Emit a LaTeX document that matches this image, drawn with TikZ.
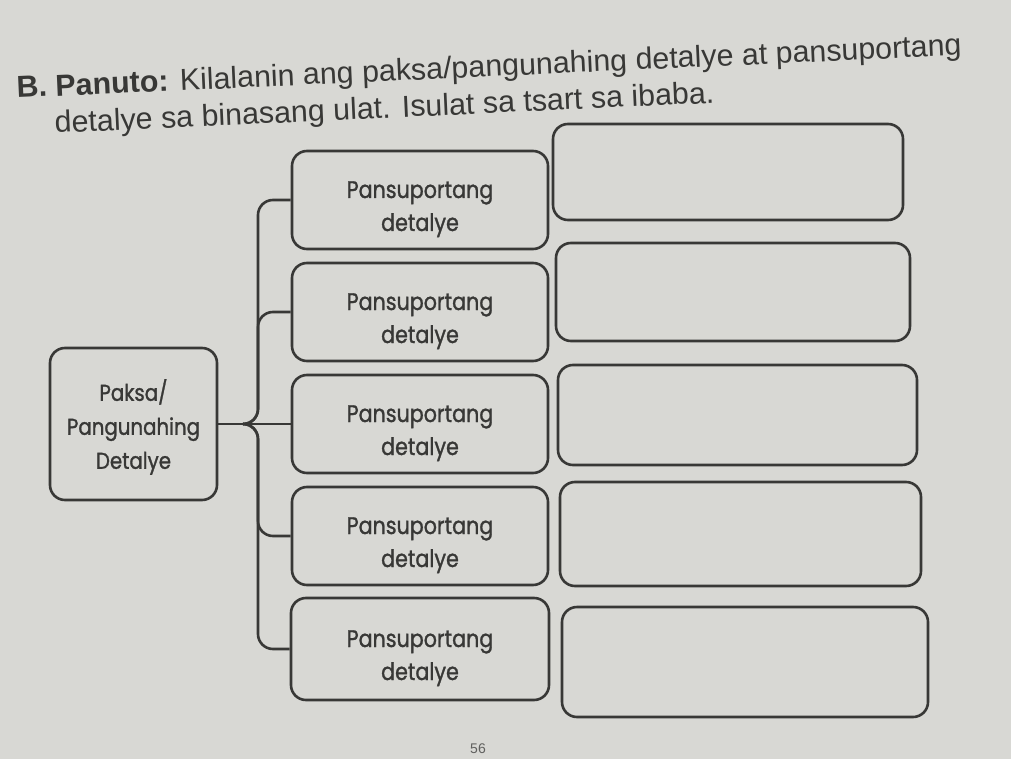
\documentclass[tikz,border=0pt]{standalone}
\usepackage{fontspec}
\usepackage{xcolor}
\setmainfont{Liberation Sans}
\newfontfamily\handfont[FakeStretch=0.86,FakeBold=1.2]{Poppins}
\usetikzlibrary{shapes,arrows}
\definecolor{paper}{RGB}{216,216,212}
\definecolor{ink}{RGB}{56,56,54}
\tikzset{box/.style = {shape=rectangle,rounded corners=15pt,draw=ink,line width=2.6pt,inner sep=0pt}}
\tikzset{link/.style = {draw=ink,line width=2.6pt}}

\begin{document}
\begin{tikzpicture}[x=1pt,y=-1pt]
		\tikzset{label/.style = {box,align=center,text=ink,text depth=-10pt,font=\handfont\fontsize{23}{34}\selectfont}}
		\tikzset{detail/.style = {box,align=center,text=ink,minimum width=256,minimum height=98,text height=62pt,text depth=0pt,font=\handfont\fontsize{24}{33}\selectfont}}
		\tikzset{heading/.style = {anchor=base west,rotate=2.6,inner sep=0pt,text=ink,font=\fontsize{30.4}{36}\selectfont}}
		% paper
		\fill[paper] (0,0) rectangle (1011,759);
		\useasboundingbox (0,0) rectangle (1011,759);
		% heading
		\node[heading] (line1) at (17,98) {\textbf{B. Panuto:} Kilalanin ang paksa/pangunahing detalye at pansuportang};
		\node[heading] (line2) at (55,133) {detalye sa binasang ulat. Isulat sa tsart sa ibaba.};
		% vertices
		\node[label,minimum width=167,minimum height=152] (paksa) at (133.5,424) {Paksa/\\Pangunahing\\Detalye};
		\node[detail] (d1) at (420,200) {Pansuportang\\detalye};
		\node[detail] (d2) at (420,312) {Pansuportang\\detalye};
		\node[detail] (d3) at (420,424) {Pansuportang\\detalye};
		\node[detail] (d4) at (420,536) {Pansuportang\\detalye};
		\node[detail,minimum width=258,minimum height=102] (d5) at (420,649) {Pansuportang\\detalye};
		\node[box,minimum width=350,minimum height=96] (r1) at (728,172) {};
		\node[box,minimum width=354,minimum height=98] (r2) at (733,292) {};
		\node[box,minimum width=359,minimum height=100] (r3) at (737.5,415) {};
		\node[box,minimum width=361,minimum height=104] (r4) at (740.5,534) {};
		\node[box,minimum width=366,minimum height=110] (r5) at (745,662) {};
		\node[text=ink!80,font=\fontsize{14}{16}\selectfont] (page) at (478,749) {56};
		% brace
		\coordinate (tip) at (243,424);
		\coordinate (jn) at (258,424);
		%edges
		\draw[link] (paksa.east) to (d3.west);
		\draw[link,rounded corners=15pt] (tip) -- (jn) |- (d1.west);
		\draw[link,rounded corners=15pt] (tip) -- (jn) |- (d2.west);
		\draw[link,rounded corners=15pt] (tip) -- (jn) |- (d4.west);
		\draw[link,rounded corners=15pt] (tip) -- (jn) |- (d5.west);
\end{tikzpicture}
\end{document}
